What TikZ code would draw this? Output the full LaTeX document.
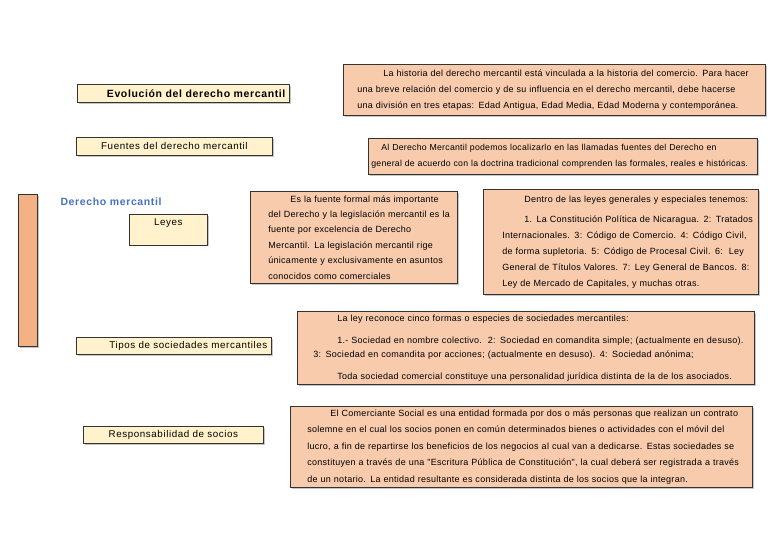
\documentclass[tikz,border=0pt]{standalone}
\usepackage{fontspec}
\setmainfont{Liberation Sans}
\newfontfamily\temafont[LetterSpace=6]{Liberation Sans}
\newfontfamily\notafont[LetterSpace=3]{Liberation Sans}
\usetikzlibrary{shadows}

\definecolor{notafill}{HTML}{F8CBAD}
\definecolor{temafill}{HTML}{FFF2CC}
\definecolor{barrafill}{HTML}{F4B183}
\definecolor{azul}{HTML}{4472C4}

\begin{document}
\begin{tikzpicture}[x=1pt,y=-1pt,
  caja/.style={draw=black!80,line width=0.8pt,anchor=north west,
               drop shadow={shadow xshift=1.2pt,shadow yshift=-1.2pt,opacity=0.45}},
  tema/.style={caja,fill=temafill,inner sep=0pt,align=center,
               font=\temafont\fontsize{9.8}{11}\selectfont},
  nota/.style={caja,fill=notafill,inner xsep=3pt,inner ysep=0pt,align=left,
               font=\notafont\fontsize{9}{16}\selectfont}
]
\useasboundingbox (0,0) rectangle (768,543);
% Barra lateral
\node[caja,fill=barrafill,minimum width=19pt,minimum height=152pt,inner sep=0pt] (barra) at (18,194) {};
\node[anchor=west,font=\temafont\fontsize{10.5}{12}\selectfont\bfseries,text=azul] (titulo) at (57,202) {Derecho mercantil};
% Temas
\node[tema,text width=204pt,align=right,minimum height=18pt,inner xsep=4pt,
      font=\temafont\fontsize{10.5}{12}\selectfont\bfseries] (evol) at (77,84) {Evolución del derecho mercantil};
\node[tema,minimum width=196pt,minimum height=18pt] (fuentes) at (76,137) {Fuentes del derecho mercantil};
\node[tema,minimum width=78pt,text depth=16pt,inner ysep=4pt] (leyes) at (129,214) {Leyes};
\node[tema,text width=187pt,align=right,minimum height=17pt,inner xsep=4pt] (tipos) at (76,337) {Tipos de sociedades mercantiles};
\node[tema,minimum width=180pt,minimum height=17pt] (resp) at (83,426) {Responsabilidad de socios};
% Notas
\node[nota,text width=416pt,minimum height=51pt] (historia) at (343,64) {\leftskip=11pt
  \hspace*{26pt}La historia del derecho mercantil está vinculada a la historia del comercio. Para hacer\\
  una breve relación del comercio y de su influencia en el derecho mercantil, debe hacerse\\
  una división en tres etapas: Edad Antigua, Edad Media, Edad Moderna y contemporánea.\par};
\node[nota,text width=387pt,inner xsep=1pt,minimum height=36pt,font=\notafont\fontsize{8.7}{15.5}\selectfont] (fuentesnota) at (368,138) {\leftskip=2pt
  \hspace*{10pt}Al Derecho Mercantil podemos localizarlo en las llamadas fuentes del Derecho en\\
  general de acuerdo con la doctrina tradicional comprenden las formales, reales e históricas.\par};
\node[nota,text width=201pt,minimum height=92pt,font=\notafont\fontsize{9}{15.4}\selectfont] (leyesnota) at (250,191) {\leftskip=15pt
  \hspace*{22pt}Es la fuente formal más importante\\
  del Derecho y la legislación mercantil es la\\
  fuente por excelencia de Derecho\\
  Mercantil. La legislación mercantil rige\\
  únicamente y exclusivamente en asuntos\\
  conocidos como comerciales\par};
\node[nota,text width=269pt,minimum height=105pt] (leyesgen) at (483,189) {\leftskip=16pt
  \hspace*{22pt}Dentro de las leyes generales y especiales tenemos:\\[4pt]
  \hspace*{22pt}1. La Constitución Política de Nicaragua. 2: Tratados\\
  Internacionales. 3: Código de Comercio. 4: Código Civil,\\
  de forma supletoria. 5: Código de Procesal Civil. 6:\ \ Ley\\
  General de Títulos Valores. 7: Ley General de Bancos. 8:\\
  Ley de Mercado de Capitales, y muchas otras.\par};
\node[nota,text width=451pt,minimum height=73pt,font=\notafont\fontsize{9}{14}\selectfont] (tiposnota) at (297,311) {\leftskip=13pt
  \hspace*{24pt}La ley reconoce cinco formas o especies de sociedades mercantiles:\\[8pt]
  \hspace*{24pt}1.- Sociedad en nombre colectivo.\ \ 2: Sociedad en comandita simple; (actualmente en desuso).\\
  3: Sociedad en comandita por acciones; (actualmente en desuso). 4: Sociedad anónima;\\[8pt]
  \hspace*{24pt}Toda sociedad comercial constituye una personalidad jurídica distinta de la de los asociados.\par};
\node[nota,text width=456pt,minimum height=81pt,font=\notafont\fontsize{9}{16.5}\selectfont] (respnota) at (290,406) {\leftskip=14pt
  \hspace*{23pt}El Comerciante Social es una entidad formada por dos o más personas que realizan un contrato\\
  solemne en el cual los socios ponen en común determinados bienes o actividades con el móvil del\\
  lucro, a fin de repartirse los beneficios de los negocios al cual van a dedicarse. Estas sociedades se\\
  constituyen a través de una "Escritura Pública de Constitución", la cual deberá ser registrada a través\\
  de un notario. La entidad resultante es considerada distinta de los socios que la integran.\par};
\end{tikzpicture}
\end{document}
